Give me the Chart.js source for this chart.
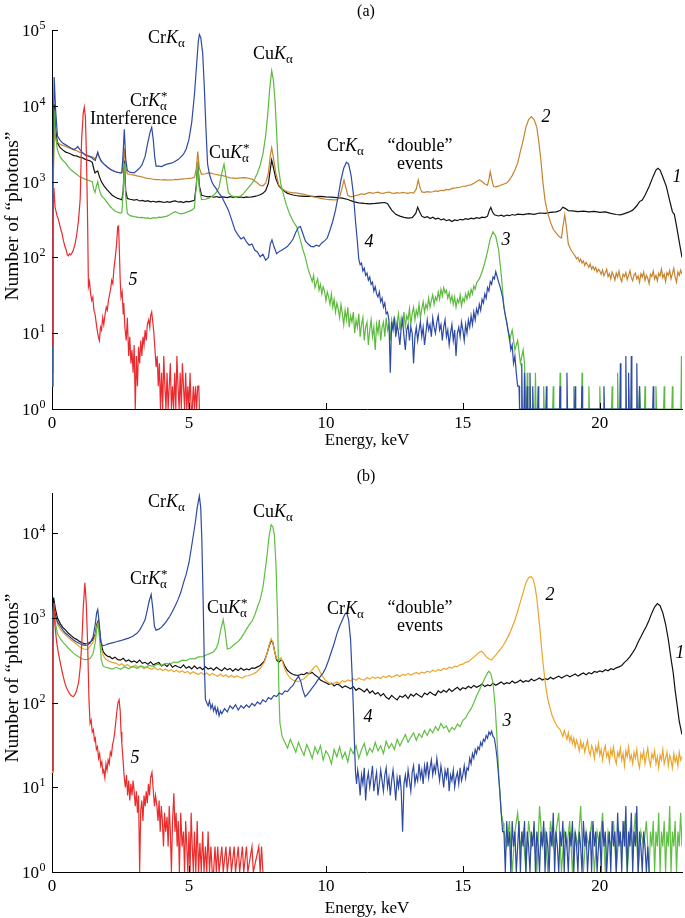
<!DOCTYPE html>
<html><head><meta charset="utf-8">
<script src="https://cdn.jsdelivr.net/npm/chart.js@4.4.0/dist/chart.umd.min.js"></script>
<style>
html,body{margin:0;padding:0;background:#fff;width:685px;height:918px;overflow:hidden}
canvas{position:absolute;left:0;display:block}
#ca{top:0}#cb{top:455px}
</style></head><body>
<canvas id="ca" width="685" height="455"></canvas>
<canvas id="cb" width="685" height="463"></canvas>
<script>
// ---------- DATA: [energy keV, number of photons] ----------
const xTicks = [0, 5, 10, 15, 20];
const decadesA = [0, 1, 2, 3, 4, 5];
const decadesB = [0, 1, 2, 3, 4];

// Panel (a)
const specA1 = [[0,3],[0.03,700],[0.08,10500],[0.13,5000],[0.2,3200],[0.3,2800],[0.4,2600],[0.5,2450],[0.6,2380],[0.7,2300],[0.8,2200],[0.9,2180],[1.0,2100],[1.1,2080],[1.2,1980],[1.3,1920],[1.4,1870],[1.47,1800],[1.52,1500],[1.57,1300],[1.63,1360],[1.67,1380],[1.72,1200],[1.8,1000],[1.9,880],[2.0,790],[2.1,720],[2.2,660],[2.3,625],[2.4,600],[2.5,585],[2.55,575],[2.6,760],[2.64,1900],[2.69,760],[2.75,600],[2.85,585],[3.0,570],[3.1,580],[3.2,555],[3.3,565],[3.4,550],[3.5,560],[3.6,540],[3.7,550],[3.8,535],[3.9,548],[4.0,540],[4.1,530],[4.2,545],[4.3,532],[4.4,548],[4.5,555],[4.6,538],[4.7,545],[4.8,530],[4.9,548],[5.0,540],[5.1,552],[5.2,565],[5.27,900],[5.32,1830],[5.38,880],[5.46,660],[5.6,640],[5.7,628],[5.8,640],[5.9,622],[6.0,635],[6.1,618],[6.2,630],[6.3,625],[6.4,615],[6.5,632],[6.6,620],[6.7,635],[6.8,618],[6.9,626],[7.0,615],[7.1,630],[7.2,622],[7.3,628],[7.4,640],[7.5,650],[7.6,670],[7.7,700],[7.8,760],[7.9,950],[7.97,1450],[8.02,1930],[8.08,1550],[8.17,1100],[8.28,880],[8.4,790],[8.5,740],[8.6,700],[8.7,680],[8.8,665],[8.9,655],[9.0,648],[9.2,640],[9.4,645],[9.6,635],[9.8,640],[10.0,630],[10.2,625],[10.4,615],[10.6,605],[10.8,580],[11.0,545],[11.2,525],[11.4,515],[11.6,508],[11.8,515],[12.0,525],[12.15,530],[12.25,510],[12.4,420],[12.55,370],[12.7,350],[12.85,338],[13.0,330],[13.15,335],[13.28,380],[13.35,460],[13.42,400],[13.5,350],[13.6,335],[13.7,345],[13.8,325],[13.9,338],[14.0,320],[14.1,330],[14.2,312],[14.3,322],[14.4,305],[14.5,315],[14.6,298],[14.7,312],[14.8,305],[14.9,318],[15.0,312],[15.1,325],[15.2,318],[15.3,330],[15.4,322],[15.5,335],[15.6,328],[15.7,340],[15.8,335],[15.9,350],[15.97,420],[16.02,455],[16.08,400],[16.15,365],[16.3,352],[16.4,360],[16.5,348],[16.6,362],[16.7,355],[16.8,368],[16.9,360],[17.0,372],[17.2,366],[17.4,378],[17.6,370],[17.8,385],[18.0,380],[18.2,392],[18.4,398],[18.55,415],[18.65,460],[18.75,440],[18.85,415],[19.0,410],[19.2,402],[19.4,408],[19.6,398],[19.8,405],[20.0,392],[20.2,398],[20.4,380],[20.6,368],[20.75,365],[20.9,378],[21.05,395],[21.2,420],[21.35,480],[21.45,545],[21.55,570],[21.65,660],[21.8,860],[21.95,1180],[22.05,1420],[22.12,1500],[22.2,1420],[22.3,1150],[22.43,860],[22.55,560],[22.65,400],[22.72,370],[22.8,260],[22.9,160],[23.0,100]];

const specA2 = [[0,2],[0.03,400],[0.08,5200],[0.14,3600],[0.2,3300],[0.3,3100],[0.4,3000],[0.5,2900],[0.6,2800],[0.7,2720],[0.8,2620],[0.9,2550],[1.0,2450],[1.1,2400],[1.2,2300],[1.3,2220],[1.4,2150],[1.5,2100],[1.57,2000],[1.63,2150],[1.67,2350],[1.72,2100],[1.8,1850],[1.9,1700],[2.0,1580],[2.1,1480],[2.2,1420],[2.3,1370],[2.4,1330],[2.5,1300],[2.55,1300],[2.6,1700],[2.64,2750],[2.69,1500],[2.75,1270],[2.85,1240],[3.0,1220],[3.1,1190],[3.2,1170],[3.3,1150],[3.4,1120],[3.5,1100],[3.6,1090],[3.7,1075],[3.8,1060],[3.9,1065],[4.0,1050],[4.1,1060],[4.2,1045],[4.3,1058],[4.4,1050],[4.5,1070],[4.6,1060],[4.7,1080],[4.8,1085],[4.9,1090],[5.0,1100],[5.1,1110],[5.2,1140],[5.27,1500],[5.32,2500],[5.38,1500],[5.46,1250],[5.6,1270],[5.7,1300],[5.8,1290],[5.9,1260],[6.0,1240],[6.1,1220],[6.2,1210],[6.3,1180],[6.4,1150],[6.5,1120],[6.6,1110],[6.7,1100],[6.8,1110],[6.9,1120],[7.0,1130],[7.1,1120],[7.2,1100],[7.3,1080],[7.4,1020],[7.5,960],[7.6,890],[7.7,880],[7.8,950],[7.9,1300],[7.97,2200],[8.02,2800],[8.08,2100],[8.17,1300],[8.28,900],[8.4,800],[8.5,760],[8.6,735],[8.7,720],[8.8,712],[8.9,708],[9.0,700],[9.1,690],[9.2,680],[9.3,665],[9.4,650],[9.5,635],[9.6,625],[9.7,612],[9.8,600],[9.9,592],[10.0,585],[10.1,580],[10.2,578],[10.3,575],[10.4,578],[10.5,620],[10.6,850],[10.66,1050],[10.72,850],[10.8,660],[10.9,630],[11.0,640],[11.1,655],[11.2,668],[11.3,690],[11.4,680],[11.5,700],[11.6,722],[11.7,700],[11.8,712],[11.9,725],[12.0,705],[12.1,698],[12.2,718],[12.3,728],[12.4,706],[12.5,700],[12.6,716],[12.7,702],[12.8,722],[12.9,708],[13.0,700],[13.1,718],[13.2,705],[13.3,800],[13.37,1050],[13.44,820],[13.5,730],[13.6,720],[13.7,738],[13.8,728],[13.9,735],[14.0,752],[14.1,745],[14.2,768],[14.3,762],[14.4,790],[14.5,780],[14.6,812],[14.7,818],[14.8,835],[14.9,842],[15.0,868],[15.1,872],[15.2,895],[15.3,905],[15.4,950],[15.5,1000],[15.6,1050],[15.7,1000],[15.8,930],[15.9,900],[15.96,1100],[16.0,1350],[16.06,1050],[16.12,860],[16.2,850],[16.3,870],[16.4,900],[16.5,930],[16.6,960],[16.7,1050],[16.8,1200],[16.9,1420],[17.0,1750],[17.1,2500],[17.2,3500],[17.3,5200],[17.4,6600],[17.5,7200],[17.6,6600],[17.7,5200],[17.78,3200],[17.85,1900],[17.92,1000],[18.0,560],[18.1,380],[18.2,290],[18.3,235],[18.4,210],[18.5,190],[18.6,180],[18.65,250],[18.72,365],[18.78,250],[18.85,150],[18.95,125],[19.05,110],[19.1,104],[19.15,96],[19.2,100],[19.25,88],[19.3,95],[19.35,84],[19.4,90],[19.45,78],[19.5,86],[19.55,80],[19.6,74],[19.65,82],[19.7,70],[19.75,76],[19.8,68],[19.85,74],[19.9,64],[19.95,70],[20.0,66],[20.05,60],[20.1,68],[20.15,57],[20.2,63],[20.25,70],[20.3,56],[20.35,61],[20.4,52],[20.45,64],[20.5,58],[20.55,50],[20.6,62],[20.65,55],[20.7,66],[20.75,53],[20.8,48],[20.85,60],[20.9,56],[20.95,63],[21.0,51],[21.05,58],[21.1,67],[21.15,54],[21.2,49],[21.25,59],[21.3,62],[21.35,52],[21.4,57],[21.45,47],[21.5,61],[21.55,55],[21.6,64],[21.65,50],[21.7,58],[21.75,53],[21.8,45],[21.85,60],[21.9,56],[21.95,66],[22.0,52],[22.05,58],[22.1,49],[22.15,62],[22.2,57],[22.25,70],[22.3,54],[22.35,60],[22.4,48],[22.45,63],[22.5,58],[22.55,67],[22.6,52],[22.65,61],[22.7,72],[22.75,55],[22.8,47],[22.85,64],[22.9,58],[22.95,68],[23.0,60]];

const specA3 = [[0,2],[0.03,300],[0.08,9000],[0.13,4000],[0.2,2600],[0.3,2100],[0.4,1900],[0.5,1750],[0.6,1550],[0.7,1420],[0.8,1330],[0.9,1250],[1.0,1170],[1.1,1120],[1.2,1080],[1.3,1050],[1.4,1020],[1.47,1000],[1.52,800],[1.57,720],[1.63,900],[1.67,1000],[1.72,800],[1.8,650],[1.9,600],[2.0,540],[2.1,480],[2.2,440],[2.3,410],[2.4,395],[2.5,385],[2.55,390],[2.6,750],[2.64,1750],[2.69,650],[2.75,380],[2.85,355],[3.0,345],[3.1,340],[3.2,335],[3.3,338],[3.4,330],[3.5,332],[3.6,325],[3.7,335],[3.8,330],[3.9,340],[4.0,338],[4.1,345],[4.2,350],[4.3,365],[4.4,385],[4.5,400],[4.6,385],[4.7,375],[4.8,380],[4.9,392],[5.0,405],[5.1,420],[5.2,450],[5.27,900],[5.32,1830],[5.38,800],[5.46,580],[5.6,585],[5.7,600],[5.8,625],[5.9,660],[6.0,720],[6.1,850],[6.2,1300],[6.28,1700],[6.36,1100],[6.44,720],[6.55,650],[6.7,630],[6.8,632],[6.9,650],[7.0,700],[7.1,780],[7.2,860],[7.3,950],[7.4,1080],[7.5,1300],[7.6,1650],[7.7,2300],[7.8,4000],[7.88,8000],[7.95,17000],[8.02,29000],[8.08,22000],[8.14,12000],[8.2,4500],[8.26,1600],[8.35,950],[8.44,700],[8.55,500],[8.68,370],[8.8,300],[8.93,255],[9.05,180],[9.15,130],[9.25,100],[9.35,70],[9.45,55],[9.5,48],[9.55,58],[9.6,40],[9.65,46],[9.7,52],[9.75,37],[9.8,44],[9.85,33],[9.9,41],[9.95,36],[10.0,27],[10.05,35],[10.1,30],[10.15,24],[10.2,33],[10.25,22],[10.3,28],[10.35,19],[10.4,25],[10.45,21],[10.5,16],[10.55,24],[10.6,18],[10.65,13],[10.7,20],[10.75,15],[10.8,22],[10.85,12],[10.9,17],[10.95,14],[11.0,19],[11.05,10],[11.1,15],[11.15,12],[11.2,18],[11.25,9],[11.3,13],[11.35,16],[11.4,8],[11.45,12],[11.5,14],[11.55,7],[11.6,11],[11.65,15],[11.7,9],[11.75,12],[11.8,6],[11.85,13],[11.9,10],[11.95,15],[12.0,8],[12.05,12],[12.1,14],[12.15,9],[12.2,16],[12.25,11],[12.3,13],[12.35,8],[12.4,15],[12.45,12],[12.5,17],[12.55,10],[12.6,14],[12.65,18],[12.7,11],[12.75,16],[12.8,13],[12.85,19],[12.9,12],[12.95,17],[13.0,15],[13.05,21],[13.1,13],[13.15,18],[13.2,22],[13.25,15],[13.3,20],[13.35,17],[13.4,24],[13.45,16],[13.5,21],[13.55,26],[13.6,19],[13.65,24],[13.7,21],[13.75,29],[13.8,22],[13.85,27],[13.9,32],[13.95,24],[14.0,30],[14.05,27],[14.1,35],[14.15,28],[14.2,38],[14.25,31],[14.3,40],[14.35,34],[14.4,37],[14.45,29],[14.5,34],[14.55,26],[14.6,31],[14.65,24],[14.7,30],[14.75,22],[14.8,28],[14.85,25],[14.9,32],[14.95,23],[15.0,29],[15.05,26],[15.1,33],[15.15,28],[15.2,35],[15.25,30],[15.3,38],[15.35,33],[15.4,42],[15.45,38],[15.5,46],[15.6,52],[15.7,64],[15.8,85],[15.9,120],[16.0,175],[16.1,218],[16.2,190],[16.3,130],[16.4,60],[16.5,22],[16.6,14],[16.7,8],[16.8,11],[16.9,6],[17.0,8],[17.1,4],[17.2,6],[17.25,4],[17.3,1],[17.33,1],[17.35,3],[17.37,1],[17.43,1],[17.45,2],[17.47,1],[17.63,1],[17.65,3],[17.67,1],[17.93,1],[17.95,2],[17.97,1],[18.28,1],[18.3,2],[18.32,1],[18.53,1],[18.55,3],[18.57,1],[19.03,1],[19.05,2],[19.07,1],[19.33,1],[19.35,3],[19.37,1],[19.58,1],[19.6,2],[19.62,1],[19.98,1],[20.0,2],[20.02,1],[20.43,1],[20.45,2],[20.47,1],[20.63,1],[20.65,3],[20.67,1],[21.03,1],[21.05,2],[21.07,1],[21.43,1],[21.45,2],[21.47,1],[21.63,1],[21.65,2],[21.67,1],[22.03,1],[22.05,2],[22.07,1],[22.33,1],[22.35,2],[22.37,1],[22.63,1],[22.65,2],[22.67,1],[22.96,1],[22.98,5],[23.0,1]];

const specA4 = [[0,2],[0.03,1500],[0.08,24000],[0.13,9000],[0.2,4000],[0.3,3500],[0.4,3200],[0.5,3050],[0.6,2900],[0.7,2750],[0.8,2650],[0.88,2750],[0.94,2900],[1.02,2650],[1.1,2450],[1.2,2250],[1.3,2180],[1.4,2120],[1.47,2050],[1.52,1950],[1.58,1900],[1.63,2200],[1.67,2450],[1.72,2150],[1.8,1850],[1.9,1700],[2.0,1580],[2.1,1480],[2.2,1400],[2.3,1350],[2.4,1320],[2.5,1300],[2.55,1320],[2.6,2500],[2.64,4900],[2.69,2000],[2.75,1400],[2.85,1320],[3.0,1300],[3.1,1400],[3.2,1520],[3.28,1650],[3.4,2150],[3.5,3300],[3.58,4500],[3.64,5200],[3.7,3500],[3.75,2100],[3.8,1600],[3.9,1600],[4.0,1580],[4.1,1650],[4.2,1700],[4.36,1750],[4.5,1850],[4.6,1950],[4.7,2100],[4.8,2300],[4.9,2700],[5.0,3600],[5.1,6000],[5.2,14000],[5.28,35000],[5.34,70000],[5.38,87000],[5.43,80000],[5.5,50000],[5.56,18000],[5.62,5000],[5.68,1700],[5.75,1250],[5.83,1000],[5.9,900],[6.0,800],[6.1,700],[6.2,630],[6.3,530],[6.44,420],[6.55,320],[6.68,230],[6.8,195],[6.9,175],[7.0,185],[7.1,160],[7.2,145],[7.3,150],[7.4,125],[7.5,118],[7.6,102],[7.7,110],[7.8,92],[7.9,100],[7.97,150],[8.03,170],[8.1,140],[8.2,112],[8.3,120],[8.4,125],[8.5,132],[8.6,140],[8.7,155],[8.8,175],[8.9,215],[9.0,250],[9.07,255],[9.15,210],[9.25,165],[9.35,150],[9.45,140],[9.55,138],[9.65,145],[9.75,140],[9.85,155],[9.95,165],[10.05,180],[10.15,230],[10.25,300],[10.35,420],[10.45,650],[10.55,1050],[10.65,1500],[10.75,1800],[10.83,1700],[10.92,1200],[11.0,700],[11.08,300],[11.15,160],[11.2,95],[11.25,80],[11.3,84],[11.35,66],[11.4,72],[11.45,58],[11.5,62],[11.55,50],[11.6,55],[11.65,44],[11.7,47],[11.75,36],[11.8,41],[11.85,33],[11.9,30],[11.95,35],[12.0,26],[12.05,29],[12.1,22],[12.15,25],[12.2,18],[12.25,19],[12.3,15],[12.35,3],[12.4,14],[12.45,11],[12.5,16],[12.55,9],[12.6,13],[12.65,10],[12.7,7],[12.75,12],[12.8,15],[12.85,9],[12.9,6],[12.95,11],[13.0,13],[13.05,8],[13.1,12],[13.15,10],[13.2,4],[13.25,9],[13.3,12],[13.35,8],[13.4,11],[13.45,14],[13.5,9],[13.55,12],[13.6,7],[13.65,10],[13.7,15],[13.75,11],[13.8,13],[13.85,9],[13.9,16],[13.95,12],[14.0,10],[14.05,14],[14.1,17],[14.15,11],[14.2,13],[14.25,8],[14.3,12],[14.35,15],[14.4,9],[14.45,11],[14.5,7],[14.55,10],[14.6,13],[14.65,8],[14.7,11],[14.75,5],[14.8,10],[14.85,12],[14.9,9],[14.95,14],[15.0,11],[15.05,8],[15.1,13],[15.15,10],[15.2,15],[15.25,12],[15.3,17],[15.35,13],[15.4,19],[15.45,15],[15.5,21],[15.55,18],[15.6,24],[15.65,20],[15.7,28],[15.75,25],[15.8,33],[15.85,29],[15.9,40],[15.95,36],[16.0,48],[16.05,44],[16.1,55],[16.15,52],[16.2,65],[16.25,56],[16.3,48],[16.35,42],[16.4,36],[16.45,30],[16.5,22],[16.55,17],[16.6,14],[16.65,11],[16.7,9],[16.75,6],[16.8,7],[16.85,4],[16.9,5],[16.95,3],[17.0,2],[17.03,2],[17.05,2],[17.07,1],[17.13,1],[17.15,4],[17.17,1],[17.23,1],[17.25,3],[17.27,1],[17.33,1],[17.35,2],[17.37,1],[17.43,1],[17.45,3],[17.47,1],[17.53,1],[17.55,2],[17.57,1],[17.73,1],[17.75,2],[17.77,1],[18.03,1],[18.05,2],[18.07,1],[18.53,1],[18.55,2],[18.57,1],[18.78,1],[18.8,3],[18.82,1],[19.08,1],[19.1,2],[19.12,1],[19.33,1],[19.35,2],[19.37,1],[20.13,1],[20.15,2],[20.17,1],[20.73,1],[20.75,4],[20.77,1],[20.93,1],[20.95,5],[20.97,1],[21.03,1],[21.05,3],[21.07,1],[21.13,1],[21.15,5],[21.17,1],[21.33,1],[21.35,4],[21.37,1],[21.43,1],[21.45,2],[21.47,1],[21.93,1],[21.95,2],[21.97,1],[22.1,1]];

const specA5 = [[0,7],[0.03,300],[0.07,820],[0.11,465],[0.18,360],[0.24,310],[0.3,250],[0.36,210],[0.42,165],[0.47,140],[0.52,125],[0.56,108],[0.6,105],[0.64,112],[0.68,108],[0.72,113],[0.78,125],[0.85,155],[0.91,210],[0.97,310],[1.03,600],[1.08,3500],[1.14,8000],[1.18,9600],[1.22,7000],[1.26,2000],[1.3,300],[1.33,41],[1.37,48],[1.41,33],[1.45,27],[1.49,30],[1.53,20],[1.57,18],[1.61,14],[1.65,11],[1.69,9],[1.73,8],[1.77,12],[1.81,11],[1.85,16],[1.89,13],[1.94,18],[1.98,22],[2.02,20],[2.06,27],[2.1,32],[2.14,38],[2.18,50],[2.22,45],[2.26,70],[2.31,100],[2.35,140],[2.4,255],[2.43,260],[2.46,120],[2.49,50],[2.52,30],[2.56,35],[2.6,18],[2.62,25],[2.66,12],[2.71,8],[2.75,16],[2.8,5],[2.84,9],[2.88,4],[2.92,6],[2.96,3],[3.0,7],[3.04,1],[3.08,5],[3.12,2],[3.16,6.6],[3.2,4],[3.24,8],[3.28,5],[3.32,9],[3.36,7],[3.4,11],[3.44,8],[3.48,13],[3.53,15],[3.57,12],[3.6,17],[3.64,19],[3.68,14],[3.72,10],[3.76,6],[3.8,3.6],[3.84,5],[3.88,2],[3.92,4],[3.96,1],[4.0,3],[4.04,1],[4.08,5],[4.12,2],[4.16,1],[4.2,3],[4.24,1],[4.28,2],[4.32,4],[4.36,1],[4.4,2],[4.44,1],[4.48,3],[4.52,1],[4.56,5],[4.6,2],[4.64,1],[4.68,3],[4.72,1],[4.76,4],[4.8,2],[4.84,1],[4.88,3],[4.92,1],[4.96,2],[5.0,1],[5.04,3],[5.08,1],[5.12,1],[5.16,2],[5.2,1],[5.24,2],[5.28,1],[5.32,2],[5.36,2],[5.38,1]];

// Panel (b)
const specB1 = [[0,15],[0.03,900],[0.06,1750],[0.12,1300],[0.2,1000],[0.3,860],[0.4,770],[0.5,720],[0.6,660],[0.7,620],[0.8,580],[0.9,560],[1.0,530],[1.1,510],[1.2,495],[1.3,500],[1.4,520],[1.5,560],[1.58,650],[1.64,850],[1.69,930],[1.74,700],[1.8,480],[1.87,400],[1.95,370],[2.05,350],[2.1,352],[2.2,330],[2.3,345],[2.4,322],[2.5,318],[2.6,335],[2.7,308],[2.8,320],[2.9,302],[3.0,312],[3.1,296],[3.2,318],[3.3,292],[3.4,300],[3.5,285],[3.6,304],[3.7,280],[3.8,290],[3.9,298],[4.0,272],[4.1,284],[4.2,268],[4.3,290],[4.4,262],[4.5,276],[4.6,266],[4.7,258],[4.8,280],[4.9,255],[5.0,268],[5.1,250],[5.2,272],[5.3,252],[5.4,262],[5.5,245],[5.6,266],[5.7,250],[5.8,258],[5.9,242],[6.0,262],[6.1,248],[6.2,238],[6.3,258],[6.4,244],[6.5,254],[6.6,236],[6.7,252],[6.8,240],[6.9,256],[7.0,242],[7.1,250],[7.2,245],[7.3,258],[7.4,255],[7.5,265],[7.6,275],[7.75,310],[7.85,380],[7.93,470],[8.0,540],[8.06,520],[8.13,400],[8.2,320],[8.28,300],[8.36,320],[8.42,310],[8.5,270],[8.6,240],[8.7,225],[8.8,215],[8.9,212],[9.0,210],[9.1,218],[9.2,214],[9.3,226],[9.4,220],[9.5,228],[9.6,212],[9.7,202],[9.8,185],[9.9,178],[10.0,172],[10.1,165],[10.2,170],[10.3,158],[10.4,166],[10.5,162],[10.6,150],[10.7,158],[10.8,152],[10.9,146],[11.0,155],[11.1,140],[11.2,148],[11.3,142],[11.4,134],[11.5,145],[11.6,130],[11.7,138],[11.8,126],[11.9,132],[12.0,120],[12.1,128],[12.2,116],[12.3,110],[12.4,122],[12.5,114],[12.6,108],[12.7,120],[12.8,116],[12.9,124],[13.0,112],[13.1,126],[13.2,119],[13.3,128],[13.4,122],[13.5,116],[13.6,130],[13.7,124],[13.8,134],[13.9,127],[14.0,122],[14.1,138],[14.2,131],[14.3,140],[14.4,133],[14.5,146],[14.6,136],[14.7,144],[14.8,152],[14.9,141],[15.0,150],[15.1,146],[15.2,156],[15.3,149],[15.4,160],[15.5,152],[15.6,158],[15.7,166],[15.8,155],[15.9,162],[16.0,158],[16.1,170],[16.2,161],[16.3,168],[16.4,176],[16.5,165],[16.6,172],[16.7,168],[16.8,180],[16.9,171],[17.0,176],[17.1,185],[17.2,174],[17.3,182],[17.4,178],[17.5,190],[17.6,181],[17.7,188],[17.8,196],[17.9,185],[18.0,192],[18.1,188],[18.2,200],[18.3,190],[18.4,198],[18.5,206],[18.6,196],[18.7,204],[18.8,212],[18.9,202],[19.0,210],[19.1,218],[19.2,206],[19.3,216],[19.4,224],[19.5,214],[19.6,226],[19.7,220],[19.8,234],[19.9,228],[20.0,238],[20.1,232],[20.2,245],[20.3,238],[20.4,252],[20.5,246],[20.6,258],[20.7,265],[20.8,275],[20.9,300],[21.0,320],[21.1,350],[21.2,390],[21.3,440],[21.4,520],[21.5,600],[21.6,700],[21.7,800],[21.8,950],[21.9,1150],[22.0,1350],[22.1,1480],[22.2,1400],[22.3,1150],[22.4,850],[22.5,560],[22.6,330],[22.68,225],[22.75,140],[22.82,95],[22.9,60],[23.0,42]];

const specB2 = [[0,15],[0.03,800],[0.06,1350],[0.12,1100],[0.2,850],[0.3,740],[0.4,680],[0.5,630],[0.6,590],[0.7,550],[0.8,520],[0.9,490],[1.0,460],[1.1,440],[1.2,425],[1.3,430],[1.4,470],[1.5,520],[1.58,620],[1.64,800],[1.69,880],[1.74,650],[1.8,430],[1.87,360],[1.95,330],[2.05,312],[2.2,300],[2.35,292],[2.45,276],[2.55,288],[2.65,270],[2.75,282],[2.85,268],[2.95,262],[3.05,278],[3.15,258],[3.25,270],[3.35,252],[3.45,264],[3.55,256],[3.65,248],[3.75,262],[3.85,244],[3.95,252],[4.05,240],[4.15,250],[4.25,236],[4.35,246],[4.45,232],[4.55,242],[4.65,228],[4.75,238],[4.85,226],[4.95,234],[5.05,220],[5.15,232],[5.25,222],[5.35,216],[5.45,228],[5.55,214],[5.65,224],[5.75,210],[5.85,222],[5.95,212],[6.05,205],[6.15,218],[6.25,204],[6.35,214],[6.45,200],[6.55,210],[6.65,198],[6.75,208],[6.85,200],[6.95,195],[7.05,206],[7.15,208],[7.3,215],[7.45,228],[7.6,255],[7.75,300],[7.85,380],[7.93,480],[8.0,570],[8.06,520],[8.13,400],[8.2,330],[8.28,320],[8.36,340],[8.42,300],[8.5,250],[8.6,215],[8.7,195],[8.8,185],[8.9,180],[9.0,178],[9.1,185],[9.2,192],[9.3,205],[9.4,225],[9.5,245],[9.6,268],[9.66,272],[9.72,255],[9.8,225],[9.9,200],[10.0,182],[10.1,172],[10.2,166],[10.3,170],[10.4,176],[10.5,168],[10.6,182],[10.7,176],[10.8,186],[10.9,180],[11.0,192],[11.1,184],[11.2,196],[11.3,188],[11.4,185],[11.5,198],[11.6,190],[11.7,202],[11.8,194],[11.9,200],[12.0,193],[12.1,206],[12.2,198],[12.3,210],[12.4,200],[12.5,206],[12.6,214],[12.7,204],[12.8,216],[12.9,210],[13.0,222],[13.1,212],[13.2,220],[13.3,228],[13.4,218],[13.5,230],[13.6,224],[13.7,236],[13.8,228],[13.9,242],[14.0,234],[14.1,246],[14.2,240],[14.3,254],[14.4,248],[14.5,262],[14.6,256],[14.7,270],[14.8,266],[14.9,282],[15.0,285],[15.1,300],[15.2,305],[15.3,325],[15.4,345],[15.5,370],[15.6,395],[15.68,405],[15.76,385],[15.85,350],[15.95,330],[16.04,320],[16.12,340],[16.2,365],[16.3,400],[16.4,440],[16.5,490],[16.6,560],[16.7,650],[16.8,780],[16.9,950],[17.0,1200],[17.1,1550],[17.2,2000],[17.3,2600],[17.4,3000],[17.48,3100],[17.56,2900],[17.63,2400],[17.7,1700],[17.76,1100],[17.82,700],[17.88,420],[17.95,250],[18.02,160],[18.1,110],[18.17,90],[18.25,72],[18.35,60],[18.45,52],[18.55,48],[18.6,44],[18.65,40],[18.7,47],[18.75,42],[18.8,37],[18.85,44],[18.9,35],[18.95,40],[19.0,33],[19.05,38],[19.1,30],[19.15,36],[19.2,32],[19.25,27],[19.3,35],[19.35,29],[19.4,33],[19.45,26],[19.5,31],[19.55,36],[19.6,27],[19.65,24],[19.7,31],[19.75,28],[19.8,22],[19.85,30],[19.9,26],[19.95,33],[20.0,24],[20.05,28],[20.1,21],[20.15,27],[20.2,31],[20.25,23],[20.3,26],[20.35,20],[20.4,28],[20.45,24],[20.5,30],[20.55,22],[20.6,19],[20.65,26],[20.7,23],[20.75,29],[20.8,21],[20.85,25],[20.9,18],[20.95,27],[21.0,23],[21.05,30],[21.1,21],[21.15,24],[21.2,19],[21.25,26],[21.3,22],[21.35,28],[21.4,20],[21.45,17],[21.5,25],[21.55,22],[21.6,27],[21.65,19],[21.7,24],[21.75,29],[21.8,21],[21.85,18],[21.9,25],[21.95,22],[22.0,27],[22.05,19],[22.1,23],[22.15,17],[22.2,24],[22.25,21],[22.3,28],[22.35,19],[22.4,22],[22.45,26],[22.5,18],[22.55,24],[22.6,21],[22.65,17],[22.7,25],[22.75,20],[22.8,23],[22.85,18],[22.9,26],[22.95,21],[23.0,23]];

const specB3 = [[0,16],[0.03,900],[0.06,1500],[0.12,900],[0.2,650],[0.3,570],[0.4,520],[0.5,480],[0.6,440],[0.7,410],[0.8,380],[0.9,360],[1.0,345],[1.1,330],[1.2,322],[1.3,325],[1.4,335],[1.5,380],[1.58,520],[1.64,760],[1.69,830],[1.74,550],[1.8,320],[1.87,270],[1.95,262],[2.05,258],[2.2,250],[2.35,262],[2.5,248],[2.65,266],[2.8,252],[2.95,270],[3.1,255],[3.25,272],[3.4,260],[3.55,275],[3.7,268],[3.85,285],[4.0,276],[4.15,292],[4.3,286],[4.45,302],[4.6,300],[4.75,318],[4.9,314],[5.05,332],[5.2,330],[5.35,348],[5.5,350],[5.65,368],[5.8,385],[5.9,400],[6.0,440],[6.07,510],[6.15,700],[6.25,960],[6.32,700],[6.4,430],[6.5,440],[6.6,470],[6.7,500],[6.8,530],[6.9,580],[7.0,650],[7.1,740],[7.2,830],[7.3,915],[7.4,1080],[7.5,1350],[7.6,1650],[7.7,2300],[7.77,3400],[7.85,5500],[7.93,9500],[8.0,12700],[8.06,12000],[8.12,9500],[8.18,4000],[8.24,880],[8.28,150],[8.32,58],[8.4,40],[8.5,34],[8.6,29],[8.7,37],[8.8,31],[8.9,26],[9.0,34],[9.1,28],[9.2,24],[9.3,32],[9.4,27],[9.5,22],[9.6,30],[9.7,25],[9.8,31],[9.9,21],[10.0,27],[10.1,24],[10.2,19],[10.3,28],[10.4,23],[10.5,30],[10.6,22],[10.7,26],[10.8,20],[10.9,29],[11.0,25],[11.1,31],[11.2,22],[11.3,28],[11.4,33],[11.5,24],[11.6,29],[11.7,26],[11.8,34],[11.9,27],[12.0,31],[12.1,25],[12.2,35],[12.3,29],[12.4,33],[12.5,28],[12.6,37],[12.7,31],[12.8,36],[12.9,42],[13.0,34],[13.1,39],[13.2,44],[13.3,36],[13.4,43],[13.5,39],[13.6,47],[13.7,41],[13.8,49],[13.9,44],[14.0,52],[14.1,47],[14.2,57],[14.3,50],[14.4,53],[14.5,45],[14.6,51],[14.7,48],[14.8,56],[14.9,52],[15.0,62],[15.1,66],[15.2,76],[15.3,85],[15.4,100],[15.5,120],[15.6,140],[15.7,165],[15.8,195],[15.9,225],[15.95,235],[16.02,220],[16.1,172],[16.18,90],[16.25,36],[16.32,12],[16.4,5],[16.47,3.8],[16.5,3],[16.6,2],[16.7,4],[16.8,1],[16.9,3],[17.0,5],[17.1,2],[17.2,3],[17.3,1],[17.4,4],[17.5,2],[17.6,3],[17.7,1],[17.8,6],[17.9,2],[18.0,3],[18.1,1],[18.2,4],[18.3,2],[18.4,3],[18.5,5],[18.6,1],[18.7,3],[18.8,2],[18.9,4],[19.0,1],[19.1,3],[19.2,2],[19.3,6],[19.4,1],[19.5,3],[19.6,2],[19.7,4],[19.8,1],[19.9,3],[20.0,2],[20.1,5],[20.2,1],[20.3,3],[20.4,2],[20.5,4],[20.6,1],[20.7,3],[20.8,2],[20.9,4],[21.0,1],[21.1,3],[21.2,2],[21.3,5],[21.4,1],[21.5,3],[21.6,2],[21.7,4],[21.8,1],[21.85,3],[21.9,2],[21.95,4],[22.0,1],[22.05,3],[22.1,2],[22.15,5],[22.2,1],[22.25,3],[22.3,2],[22.35,4],[22.4,1],[22.45,3],[22.5,2],[22.55,6],[22.6,1],[22.65,3],[22.7,2],[22.75,4],[22.8,1],[22.85,3],[22.9,2],[22.95,5],[23.0,2]];

const specB4 = [[0,16],[0.03,900],[0.06,1500],[0.12,1100],[0.2,900],[0.3,800],[0.4,720],[0.5,660],[0.6,620],[0.7,580],[0.8,545],[0.9,520],[1.0,500],[1.1,485],[1.2,475],[1.3,480],[1.4,510],[1.5,600],[1.58,850],[1.63,1150],[1.67,1260],[1.72,900],[1.78,520],[1.85,470],[1.95,480],[2.05,495],[2.2,510],[2.35,525],[2.5,540],[2.65,560],[2.8,580],[2.95,610],[3.1,660],[3.2,720],[3.3,820],[3.4,960],[3.48,1250],[3.55,1600],[3.62,1900],[3.68,1300],[3.74,800],[3.8,720],[3.9,740],[4.0,780],[4.1,850],[4.2,940],[4.3,1050],[4.4,1200],[4.5,1400],[4.6,1650],[4.7,2000],[4.8,2600],[4.9,3300],[5.0,4500],[5.08,6500],[5.16,9500],[5.24,14000],[5.3,20000],[5.38,27700],[5.43,20000],[5.47,8500],[5.52,1500],[5.56,300],[5.6,110],[5.65,100],[5.7,92],[5.75,105],[5.8,85],[5.85,95],[5.9,80],[5.95,90],[6.0,75],[6.05,86],[6.1,70],[6.15,80],[6.2,74],[6.3,85],[6.4,78],[6.5,92],[6.6,85],[6.7,95],[6.8,82],[6.9,92],[7.0,86],[7.1,94],[7.2,88],[7.3,98],[7.4,92],[7.5,102],[7.6,96],[7.7,108],[7.8,102],[7.9,115],[8.0,110],[8.1,122],[8.2,118],[8.3,130],[8.4,125],[8.5,138],[8.6,135],[8.7,150],[8.8,160],[8.9,185],[9.0,205],[9.08,180],[9.16,140],[9.24,118],[9.32,125],[9.4,135],[9.5,150],[9.6,165],[9.7,185],[9.8,205],[9.9,225],[10.0,260],[10.1,320],[10.2,400],[10.3,500],[10.4,650],[10.5,800],[10.6,950],[10.7,1120],[10.76,1150],[10.83,950],[10.9,560],[10.96,200],[11.0,90],[11.04,35],[11.08,15],[11.12,11],[11.16,16],[11.2,13],[11.25,8],[11.3,14],[11.35,11],[11.4,17],[11.45,7],[11.5,12],[11.55,15],[11.6,10],[11.65,13],[11.7,18],[11.75,9],[11.8,12],[11.85,15],[11.9,8],[11.95,11],[12.0,16],[12.05,12],[12.1,9],[12.15,14],[12.2,17],[12.25,10],[12.3,13],[12.35,8],[12.4,12],[12.45,16],[12.5,11],[12.55,7],[12.6,13],[12.65,10],[12.7,14],[12.75,9],[12.8,3],[12.85,11],[12.9,14],[12.95,10],[13.0,16],[13.05,12],[13.1,9],[13.15,15],[13.2,18],[13.25,11],[13.3,14],[13.35,12],[13.4,19],[13.45,13],[13.5,16],[13.55,11],[13.6,18],[13.65,14],[13.7,20],[13.75,13],[13.8,17],[13.85,21],[13.9,14],[13.95,18],[14.0,15],[14.05,22],[14.1,16],[14.15,12],[14.2,18],[14.25,14],[14.3,10],[14.35,16],[14.4,13],[14.45,17],[14.5,9],[14.55,14],[14.6,12],[14.65,16],[14.7,10],[14.75,13],[14.8,15],[14.85,11],[14.9,17],[14.95,12],[15.0,14],[15.05,18],[15.1,13],[15.15,17],[15.2,16],[15.25,22],[15.3,19],[15.35,25],[15.4,22],[15.45,28],[15.5,25],[15.55,30],[15.6,28],[15.65,34],[15.7,31],[15.75,37],[15.8,35],[15.85,41],[15.9,38],[15.95,45],[16.0,42],[16.05,46],[16.1,40],[16.15,38],[16.2,30],[16.25,22],[16.3,14],[16.35,9],[16.4,5],[16.45,3],[16.5,3],[16.55,1],[16.6,4],[16.65,2],[16.7,3],[16.75,1],[16.8,4],[16.85,2],[16.9,3],[16.95,1],[17.0,2],[17.05,4],[17.1,1],[17.15,3],[17.2,2],[17.25,4],[17.3,1],[17.35,3],[17.4,2],[17.45,1],[17.5,3],[17.55,2],[17.6,4],[17.65,1],[17.7,3],[17.75,2],[17.8,1],[17.85,3],[17.9,2],[17.95,4],[18.0,1],[18.05,3],[18.1,2],[18.15,1],[18.2,3],[18.25,2],[18.3,5],[18.35,1],[18.4,3],[18.45,2],[18.5,1],[18.55,3],[18.6,2],[18.65,4],[18.7,1],[18.75,3],[18.8,2],[18.85,1],[18.9,3],[18.95,2],[19.0,4],[19.05,1],[19.1,3],[19.15,2],[19.2,1],[19.25,3],[19.3,2],[19.35,1],[19.4,4],[19.45,2],[19.5,3],[19.55,1],[19.6,2],[19.65,3],[19.7,1],[19.75,4],[19.8,2],[19.85,3],[19.9,1],[19.95,2],[20.0,3],[20.05,1],[20.1,4],[20.15,2],[20.2,3],[20.25,1],[20.3,2],[20.35,3],[20.4,1],[20.45,4],[20.5,2],[20.55,3],[20.6,1],[20.65,5],[20.7,2],[20.75,3],[20.8,1],[20.85,4],[20.9,2],[20.95,6],[21.0,1],[21.05,3],[21.1,2],[21.15,5],[21.2,1],[21.25,3],[21.3,2],[21.35,6],[21.4,1],[21.45,3],[21.5,2],[21.55,1],[21.6,3],[21.65,2],[21.7,1],[21.75,2],[21.8,1]];

const specB5 = [[0,16],[0.03,400],[0.07,1500],[0.11,800],[0.17,520],[0.23,390],[0.3,300],[0.36,240],[0.41,205],[0.47,170],[0.53,150],[0.6,135],[0.66,125],[0.72,120],[0.78,118],[0.84,125],[0.9,140],[0.97,172],[1.03,260],[1.09,520],[1.14,1300],[1.2,2600],[1.25,1500],[1.3,510],[1.35,108],[1.39,57],[1.43,62],[1.47,45],[1.51,48],[1.55,36],[1.58,38],[1.62,28],[1.66,30],[1.7,22],[1.74,25],[1.78,18],[1.82,20],[1.86,15],[1.89,16],[1.93,13],[1.97,19],[2.01,16],[2.05,21],[2.09,19],[2.13,26],[2.17,24],[2.21,32],[2.25,36],[2.29,45],[2.33,60],[2.37,80],[2.41,100],[2.45,108],[2.49,80],[2.52,45],[2.55,33],[2.59,22],[2.63,14],[2.68,10],[2.72,14],[2.76,8],[2.8,12],[2.84,7],[2.88,11],[2.92,8],[2.96,12],[3.0,9],[3.04,6],[3.08,9],[3.12,5],[3.16,8],[3.2,1],[3.24,5.4],[3.28,7],[3.32,4],[3.36,8],[3.4,6],[3.44,9],[3.48,6.5],[3.52,11],[3.56,8],[3.6,13],[3.65,15],[3.7,9],[3.74,6],[3.78,8],[3.83,6],[3.87,4],[3.91,7],[3.95,3],[3.99,6],[4.03,4],[4.07,2],[4.11,5],[4.15,3],[4.2,4.5],[4.24,2],[4.28,6],[4.32,3],[4.36,1],[4.4,4],[4.45,8.5],[4.49,3],[4.53,5],[4.57,2],[4.61,4],[4.65,1],[4.7,5],[4.75,2],[4.8,3],[4.84,1],[4.88,4],[4.92,2],[4.96,1],[5.0,3],[5.04,1],[5.08,5],[5.12,2],[5.16,1],[5.2,3],[5.25,1],[5.3,4],[5.35,1],[5.4,2.2],[5.45,1],[5.5,3],[5.55,1],[5.6,2],[5.65,1],[5.7,3],[5.75,1],[5.8,2],[5.85,1],[5.9,1],[5.95,2],[6.0,1],[6.05,2],[6.1,1],[6.2,2],[6.25,1],[6.35,2],[6.4,1],[6.5,2],[6.55,1],[6.65,2],[6.7,1],[6.8,2],[6.85,1],[6.95,2],[7.0,1],[7.1,2],[7.15,1],[7.3,2],[7.35,1],[7.55,2],[7.6,1],[7.65,2],[7.7,1]];

// ---------- RENDERING ----------
const serif = '"Liberation Serif","Times New Roman",serif';
const crKa = [['Cr','n'],['K','i'],['α','sub']];
const crKaS = [['Cr','n'],['K','i'],['α','sub'],['*','sup']];
const cuKa = [['Cu','n'],['K','i'],['α','sub']];
const cuKaS = [['Cu','n'],['K','i'],['α','sub'],['*','sup']];

function fontFor(kind, size) {
  if (kind === 'i') return `italic ${size}px ${serif}`;
  if (kind === 'sub' || kind === 'sup') return `${Math.round(size * 0.72)}px ${serif}`;
  return `${size}px ${serif}`;
}
function drawRich(ctx, x, y, parts, size, center) {
  let w = 0;
  for (const p of parts) { if (p[1] === 'sup') continue; ctx.font = fontFor(p[1], size); w += ctx.measureText(p[0]).width; }
  let cx = center ? x - w / 2 : x, lastX = cx;
  ctx.textAlign = 'left'; ctx.textBaseline = 'alphabetic';
  for (const p of parts) {
    ctx.font = fontFor(p[1], size);
    if (p[1] === 'sup') { ctx.fillText(p[0], lastX + 1, y - size * 0.36); continue; }
    const dy = p[1] === 'sub' ? size * 0.24 : 0;
    ctx.fillText(p[0], cx, y + dy);
    lastX = cx; cx += ctx.measureText(p[0]).width;
  }
}

const deco = {
  id: 'deco',
  afterDraw(chart, args, o) {
    const ctx = chart.ctx, xs = chart.scales.x, ys = chart.scales.y, ca = chart.chartArea;
    ctx.save();
    ctx.strokeStyle = '#000'; ctx.lineWidth = 1;
    ctx.beginPath();
    for (const v of xTicks) {
      if (v === 0) continue;
      const px = Math.round(xs.getPixelForValue(v)) + 0.5;
      ctx.moveTo(px, ca.bottom); ctx.lineTo(px, ca.bottom - 6);
    }
    for (const d of o.decades) {
      const py = Math.round(ys.getPixelForValue(Math.pow(10, d))) + 0.5;
      ctx.moveTo(ca.left, py); ctx.lineTo(ca.left + 6, py);
    }
    ctx.stroke();
    ctx.fillStyle = '#000';
    ctx.font = `17px ${serif}`; ctx.textAlign = 'center'; ctx.textBaseline = 'middle';
    for (const v of xTicks) ctx.fillText(String(v), xs.getPixelForValue(v), ca.bottom + 15);
    for (const d of o.decades) {
      const py = ys.getPixelForValue(Math.pow(10, d));
      ctx.font = `17px ${serif}`; ctx.textAlign = 'right'; ctx.textBaseline = 'middle';
      ctx.fillText('10', ca.left - 13, py + 1.5);
      ctx.font = `12px ${serif}`; ctx.textAlign = 'left'; ctx.textBaseline = 'alphabetic';
      ctx.fillText(String(d), ca.left - 12.5, py - 1);
    }
    ctx.font = `17px ${serif}`; ctx.textAlign = 'center'; ctx.textBaseline = 'alphabetic';
    ctx.fillText('Energy, keV', (ca.left + ca.right) / 2, o.xTitleY);
    ctx.save();
    ctx.translate(18, o.yTitleY); ctx.rotate(-Math.PI / 2);
    ctx.font = `19.5px ${serif}`; ctx.textAlign = 'center'; ctx.textBaseline = 'alphabetic';
    ctx.fillText('Number of “photons”', 0, 0);
    ctx.restore();
    ctx.font = `16px ${serif}`; ctx.textAlign = 'center'; ctx.textBaseline = 'middle';
    ctx.fillText(o.panel, 366, o.panelY);
    for (const n of o.notes) drawRich(ctx, n.x, n.y, n.p, 18, n.c);
    ctx.font = `italic 18px ${serif}`; ctx.textAlign = 'center'; ctx.textBaseline = 'middle';
    for (const n of o.nums) ctx.fillText(n.t, n.x, n.y);
    ctx.restore();
  }
};

function ds(data, color) {
  return { data, borderColor: color, borderWidth: 1.2, pointRadius: 0, tension: 0, fill: false };
}

function makeChart(id, series, ymax, padTop, decoOpts) {
  return new Chart(document.getElementById(id), {
    type: 'line',
    data: { datasets: series },
    options: {
      responsive: false, animation: false, events: [],
      layout: { padding: { top: padTop, right: 3, left: 0, bottom: 0 } },
      plugins: { legend: { display: false }, tooltip: { enabled: false }, deco: decoOpts },
      scales: {
        x: { type: 'linear', min: 0, max: 23, afterFit(s) { s.height = 46; },
             ticks: { display: false }, grid: { display: false, drawTicks: false },
             border: { display: true, color: '#000', width: 1 } },
        y: { type: 'logarithmic', min: 1, max: ymax, afterFit(s) { s.width = 52; },
             ticks: { display: false }, grid: { display: false, drawTicks: false },
             border: { display: true, color: '#000', width: 1 } }
      }
    },
    plugins: [deco]
  });
}

makeChart('ca', [
  ds(specA5, '#ea2a2e'), ds(specA4, '#2d4aa6'), ds(specA3, '#5dba3f'),
  ds(specA2, '#c5832f'), ds(specA1, '#111111')
], 100000, 30, {
  decades: decadesA, xTitleY: 445, yTitleY: 216, panel: '(a)', panelY: 12,
  notes: [
    { p: crKa, x: 148, y: 43 }, { p: crKaS, x: 130, y: 106 },
    { p: [['Interference','n']], x: 90, y: 124 },
    { p: cuKa, x: 253, y: 59 }, { p: cuKaS, x: 209, y: 158 },
    { p: crKa, x: 327, y: 151 },
    { p: [['“double”','n']], x: 420, y: 151, c: true },
    { p: [['events','n']], x: 420, y: 169, c: true }
  ],
  nums: [{ t: '1', x: 677, y: 177 }, { t: '2', x: 546, y: 117 }, { t: '3', x: 506, y: 240 }, { t: '4', x: 369, y: 242 }, { t: '5', x: 133, y: 280 }]
});

makeChart('cb', [
  ds(specB5, '#ec2b2b'), ds(specB4, '#2e4aa2'), ds(specB3, '#5fbf42'),
  ds(specB2, '#eba52b'), ds(specB1, '#111111')
], 30000, 38, {
  decades: decadesB, xTitleY: 458, yTitleY: 223, panel: '(b)', panelY: 22,
  notes: [
    { p: crKa, x: 148, y: 52 }, { p: crKaS, x: 130, y: 129 },
    { p: cuKa, x: 253, y: 62 }, { p: cuKaS, x: 207, y: 158 },
    { p: crKa, x: 327, y: 159 },
    { p: [['“double”','n']], x: 420, y: 158, c: true },
    { p: [['events','n']], x: 420, y: 176, c: true }
  ],
  nums: [{ t: '1', x: 680, y: 198 }, { t: '2', x: 550, y: 140 }, { t: '3', x: 507, y: 266 }, { t: '4', x: 368, y: 262 }, { t: '5', x: 135, y: 303 }]
});
</script>
</body></html>
